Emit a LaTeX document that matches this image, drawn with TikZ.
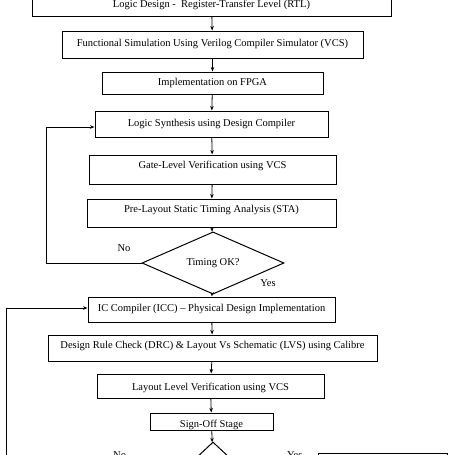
\documentclass[tikz,border=0pt]{standalone}
\usepackage{fontspec}
\setmainfont{Liberation Serif}
\usetikzlibrary{shapes.geometric, arrows.meta}

\tikzset{
    stage/.style={draw=black, line width=1pt, rectangle, inner xsep=0pt, inner ysep=0pt,
        font=\fontsize{10.5}{12}\selectfont},
    check/.style={draw=black, line width=1pt, diamond, inner sep=0pt,
        font=\fontsize{10.5}{12}\selectfont},
    flow/.style={line width=0.8pt, -{Stealth[length=4.5pt, width=3.5pt]}},
    link/.style={line width=0.8pt},
    tag/.style={font=\fontsize{10.5}{12}\selectfont, inner sep=0pt}
}

\begin{document}
\begin{tikzpicture}[x=1pt, y=-1pt]
        % frame
        \useasboundingbox (0,0) rectangle (455,455);
        \clip (0,0) rectangle (455,455);
        \fill[white] (0,0) rectangle (455,455);

        % stages
        \node[stage, minimum width=359, text height=22, text depth=8] (rtl) at (211.5, 1) {Logic Design -\ \ Register-Transfer Level (RTL)};
        \node[stage, minimum width=301, text height=15, text depth=12] (fsim) at (212.5, 44.5) {Functional Simulation Using Verilog Compiler Simulator (VCS)};
        \node[stage, minimum width=221, text height=13, text depth=9] (fpga) at (212.5, 83) {Implementation on FPGA};
        \node[stage, minimum width=233, text height=15, text depth=11] (synth) at (211.5, 124) {Logic Synthesis using Design Compiler};
        \node[stage, minimum width=247, text height=13, text depth=16] (gate) at (212.5, 169.5) {Gate-Level Verification using VCS};
        \node[stage, minimum width=249, text height=13, text depth=15] (sta) at (211.5, 213) {Pre-Layout Static Timing Analysis (STA)};
        \node[check, minimum width=142, minimum height=46] (timing) at (213, 263) {Timing OK?};
        \node[stage, minimum width=247, text height=14, text depth=11] (icc) at (211.5, 309.5) {IC Compiler (ICC) -- Physical Design Implementation};
        \node[stage, minimum width=329, text height=13, text depth=13] (drc) at (212.5, 348) {Design Rule Check (DRC) \& Layout Vs Schematic (LVS) using Calibre};
        \node[stage, minimum width=227, text height=16, text depth=8] (lvl) at (210.5, 386) {Layout Level Verification using VCS};
        \node[stage, minimum width=123, text height=14, text depth=3] (signoff) at (211.5, 421.5) {Sign-Off Stage};
        \node[check, minimum width=60, minimum height=56] (final) at (213, 470) {};
        \node[stage, minimum width=129, minimum height=30] (tapeout) at (382.5, 468) {};

        % labels
        \node[tag, anchor=base] (no1) at (124, 251) {No};
        \node[tag, anchor=base] (yes1) at (268, 286) {Yes};
        \node[tag, anchor=north west] (no2) at (113, 451) {No};
        \node[tag, anchor=north west] (yes2) at (287, 451) {Yes};

        % draw diagram
        \draw[flow] (rtl) -- (fsim);
        \draw[flow] (fsim) -- (fpga);
        \draw[flow] (fpga) -- (synth);
        \draw[flow] (synth) -- (gate);
        \draw[flow] (gate) -- (sta);
        \draw[flow] (sta) -- (timing);
        \draw[flow] (timing) -- (icc);
        \draw[flow] (icc) -- (drc);
        \draw[flow] (drc) -- (lvl);
        \draw[flow] (lvl) -- (signoff);
        \draw[flow] (signoff) -- (final);

        % loops back
        \draw[flow] (timing.west) -- (46, 263) |- ([yshift=-3pt]synth.west);
        \draw[flow] (final.west) -- (6, 470) |- ([yshift=1.5pt]icc.west);
        \draw[link] (final.east) -- (tapeout.west);
\end{tikzpicture}
\end{document}
